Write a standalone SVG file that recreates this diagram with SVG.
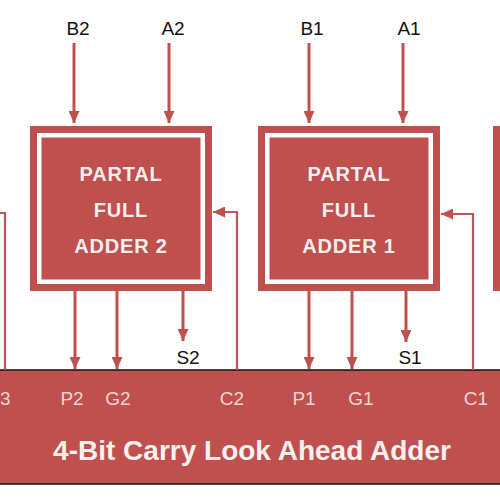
<svg xmlns="http://www.w3.org/2000/svg" width="500" height="500" viewBox="0 0 500 500">
<defs>
<style>
.box{fill:#c0504d}
.inner{fill:none;stroke:#ffffff;stroke-width:4.5}
.btxt{font-family:"Liberation Sans",Arial,sans-serif;font-weight:bold;font-size:20px;fill:#f6eeee;text-anchor:middle;letter-spacing:0.8px}
.lbl{font-family:"Liberation Sans",Arial,sans-serif;font-size:19px;fill:#111111;text-anchor:middle}
.blbl{font-family:"Liberation Sans",Arial,sans-serif;font-size:19px;fill:#f2d6d5;text-anchor:middle}
.title{font-family:"Liberation Sans",Arial,sans-serif;font-weight:bold;font-size:28px;fill:#f8f0ef;text-anchor:middle}
.arr{stroke:#c0504d;stroke-width:3;fill:none;marker-end:url(#ah)}
.carr{stroke:#b9585c;stroke-width:2.2;fill:none;marker-end:url(#ah)}
</style>
<marker id="ah" markerUnits="userSpaceOnUse" markerWidth="13" markerHeight="11" refX="12" refY="5.5" orient="auto">
<path d="M0,0 L12,5.5 L0,11 z" fill="#c0504d"/>
</marker>
</defs>
<rect width="500" height="500" fill="#ffffff"/>

<g id="cla">
<rect x="-5" y="370" width="510" height="114" fill="#c0504d" stroke="#111111" stroke-width="1.5"/>
<text class="blbl" x="0" y="405" style="text-anchor:start">3</text>
<text class="blbl" x="72" y="405">P2</text>
<text class="blbl" x="118" y="405">G2</text>
<text class="blbl" x="232" y="405">C2</text>
<text class="blbl" x="304" y="405">P1</text>
<text class="blbl" x="361" y="405">G1</text>
<text class="blbl" x="476" y="405">C1</text>
<text class="title" x="252" y="460">4-Bit Carry Look Ahead Adder</text>
</g>

<g id="pfa2">
<rect class="box" x="30" y="126" width="182" height="165"/>
<rect class="inner" x="39.25" y="135.25" width="163.5" height="146.5"/>
<text class="btxt" x="121" y="181">PARTAL</text>
<text class="btxt" x="121" y="217">FULL</text>
<text class="btxt" x="121" y="253">ADDER 2</text>
</g>

<g id="pfa1">
<rect class="box" x="258" y="126" width="182" height="165"/>
<rect class="inner" x="267.25" y="135.25" width="163.5" height="146.5"/>
<text class="btxt" x="349" y="181">PARTAL</text>
<text class="btxt" x="349" y="217">FULL</text>
<text class="btxt" x="349" y="253">ADDER 1</text>
</g>

<g id="pfa0">
<rect class="box" x="493" y="126" width="182" height="165"/>
</g>

<g id="labels">
<text class="lbl" x="78" y="35">B2</text>
<text class="lbl" x="173" y="35">A2</text>
<text class="lbl" x="312" y="35">B1</text>
<text class="lbl" x="409" y="35">A1</text>
<text class="lbl" x="188" y="364">S2</text>
<text class="lbl" x="410" y="364">S1</text>
</g>

<g id="connectors">
<line class="arr" x1="74" y1="43" x2="74" y2="123"/>
<line class="arr" x1="169" y1="43" x2="169" y2="123"/>
<line class="arr" x1="309" y1="43" x2="309" y2="123"/>
<line class="arr" x1="403" y1="43" x2="403" y2="123"/>
<line class="arr" x1="75" y1="291" x2="75" y2="369"/>
<line class="arr" x1="117" y1="291" x2="117" y2="369"/>
<line class="arr" x1="183" y1="291" x2="183" y2="341"/>
<line class="arr" x1="309" y1="291" x2="309" y2="369"/>
<line class="arr" x1="352" y1="291" x2="352" y2="369"/>
<line class="arr" x1="406" y1="291" x2="406" y2="342"/>
<polyline class="carr" points="237,370 237,212 213,212"/>
<polyline class="carr" points="473,370 473,214 441,214"/>
<polyline class="carr" points="5,370 5,213 -5,213" style="marker-end:none"/>
</g>
</svg>
